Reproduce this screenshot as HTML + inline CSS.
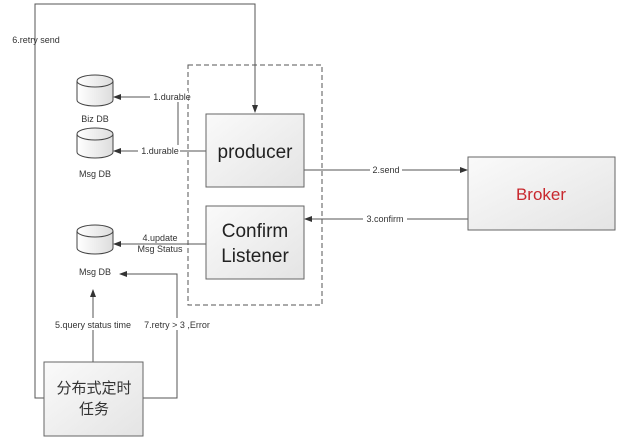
<!DOCTYPE html>
<html><head><meta charset="utf-8"><style>
body{margin:0;background:#fff;}
svg text{font-family:"Liberation Sans","Noto Sans CJK SC",sans-serif;}
</style></head><body>
<svg width="640" height="439" viewBox="0 0 640 439" xmlns="http://www.w3.org/2000/svg">
<defs>
<marker id="a" markerWidth="8" markerHeight="6" refX="7" refY="3" orient="auto" markerUnits="userSpaceOnUse"><path d="M0,0 L8,3 L0,6 z" fill="#333"/></marker>
<linearGradient id="g" x1="0" y1="0" x2="1" y2="1"><stop offset="0" stop-color="#fafafa"/><stop offset="1" stop-color="#e4e4e4"/></linearGradient>
<linearGradient id="c" x1="0" y1="0" x2="1" y2="0"><stop offset="0" stop-color="#fff"/><stop offset="1" stop-color="#ddd"/></linearGradient>
</defs>
<rect width="640" height="439" fill="#fff"/>
<g stroke="#555" stroke-width="1" fill="none">
<rect x="188" y="65" width="134" height="240" stroke-dasharray="5,3"/>
<!-- line 6 -->
<polyline points="44,398 35,398 35,4 255,4 255,112" marker-end="url(#a)"/>
<!-- durable -->
<line x1="178" y1="97" x2="114" y2="97" marker-end="url(#a)"/>
<line x1="178" y1="97" x2="178" y2="151"/>
<line x1="206" y1="151" x2="114" y2="151" marker-end="url(#a)"/>
<line x1="304" y1="170" x2="467" y2="170" marker-end="url(#a)"/>
<line x1="468" y1="219" x2="305" y2="219" marker-end="url(#a)"/>
<line x1="206" y1="244" x2="114" y2="244" marker-end="url(#a)"/>
<line x1="93" y1="362" x2="93" y2="290" marker-end="url(#a)"/>
<polyline points="143,398 177,398 177,274 120,274" marker-end="url(#a)"/>
</g>
<g stroke="#666" fill="url(#g)">
<rect x="206" y="114" width="98" height="73"/>
<rect x="206" y="206" width="98" height="73"/>
<rect x="468" y="157" width="147" height="73" fill="url(#g)"/>
<rect x="44" y="362" width="99" height="74"/>
</g>
<g stroke="#444" fill="url(#c)">
<path d="M77,81 L77,100 A18,6 0 0 0 113,100 L113,81"/><ellipse cx="95" cy="81" rx="18" ry="6"/>
<path d="M77,134 L77,152 A18,6 0 0 0 113,152 L113,134"/><ellipse cx="95" cy="134" rx="18" ry="6"/>
<path d="M77,231 L77,248 A18,6 0 0 0 113,248 L113,231"/><ellipse cx="95" cy="231" rx="18" ry="6"/>
</g>
<g font-size="9" fill="#333" text-anchor="middle">
<rect x="150" y="91" width="38" height="11" fill="#fff"/><text x="172" y="100">1.durable</text>
<rect x="138" y="145" width="42" height="11" fill="#fff"/><text x="160" y="154">1.durable</text>
<text x="95" y="122">Biz DB</text>
<text x="95" y="177">Msg DB</text>
<text x="95" y="275">Msg DB</text>
<text x="160" y="241">4.update</text>
<text x="160" y="252">Msg Status</text>
<text x="36" y="43">6.retry send</text>
<rect x="52" y="318" width="82" height="12" fill="#fff"/><text x="93" y="328">5.query status time</text>
<rect x="142" y="318" width="70" height="12" fill="#fff"/><text x="177" y="328">7.retry &gt; 3 ,Error</text>
<rect x="370" y="165" width="32" height="11" fill="#fff"/><text x="386" y="173">2.send</text>
<rect x="363" y="214" width="44" height="11" fill="#fff"/><text x="385" y="222">3.confirm</text>
</g>
<g fill="#222" text-anchor="middle">
<text x="255" y="158" font-size="19">producer</text>
<text x="255" y="237" font-size="19">Confirm</text>
<text x="255" y="262" font-size="19">Listener</text>
<text x="541" y="200" font-size="17" fill="#c8282e">Broker</text>
<text x="94" y="393" font-size="15" fill="#333">分布式定时</text>
<text x="94" y="414" font-size="15" fill="#333">任务</text>
</g>
</svg>
</body></html>
